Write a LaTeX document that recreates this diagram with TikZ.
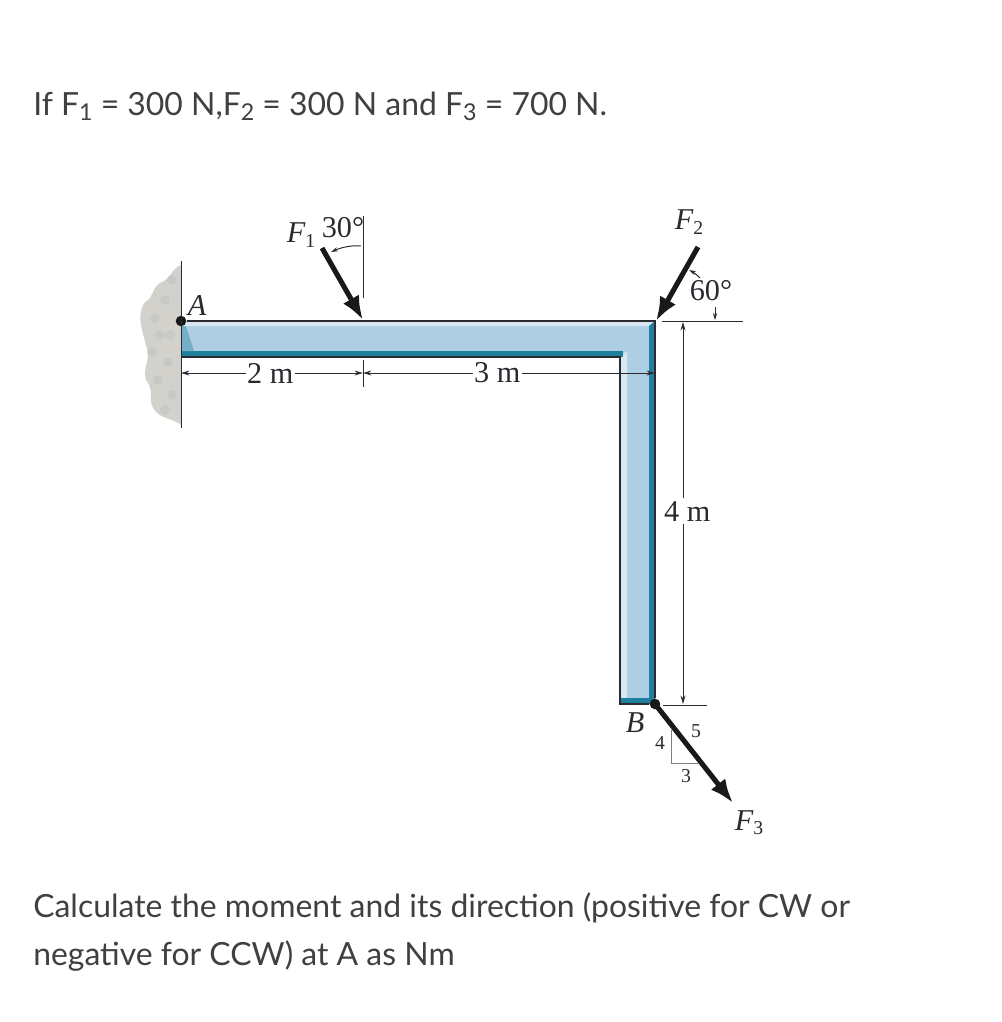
\documentclass[tikz,border=0pt]{standalone}
\usepackage{fontspec}
\setmainfont{Liberation Serif}
\newfontfamily\prosefont{Lato}
\usetikzlibrary{arrows.meta}
\definecolor{beamlight}{HTML}{AECFE3}
\definecolor{beampale}{HTML}{D8E7F2}
\definecolor{beamdark}{HTML}{1F7F9C}
\definecolor{wallgray}{HTML}{D2D1CB}
\definecolor{wallspot}{HTML}{C8C9C6}
\definecolor{inkgray}{HTML}{2A2A30}
\newcommand{\lowdigit}[1]{\lower4pt\hbox{\fontsize{16.5}{16.5}\selectfont #1}}
\tikzset{
	force/.style={line width=3.6pt, draw=black!90, -{Latex[length=17pt,width=13pt]}},
	thin line/.style={line width=0.7pt, draw=inkgray},
	dim/.style={line width=0.7pt, draw=inkgray, {Stealth[length=6pt,width=3.5pt]}-{Stealth[length=6pt,width=3.5pt]}},
	big text/.style={font=\fontsize{21.5}{21.5}\selectfont, text=inkgray, inner sep=0pt},
	ital text/.style={font=\fontsize{21.5}{21.5}\selectfont\itshape, text=inkgray, inner sep=0pt},
	small text/.style={font=\fontsize{14}{14}\selectfont, text=inkgray, inner sep=0pt},
	prose/.style={font=\prosefont\fontsize{22.7}{22.7}\selectfont, text=black!75, inner sep=0pt, anchor=base west}
}
\begin{document}
\begin{tikzpicture}[x=0.025cm,y=-0.025cm]
	\useasboundingbox (0,0) rectangle (1002,1022);

	% question text
	\node[prose] (top) at (33,115) {If F\lowdigit{1} = 300 N,F\lowdigit{2} = 300 N and F\lowdigit{3} = 700 N.};
	\node[prose] (line_a) at (33,917) {Calculate the moment and its direction (positive for CW or};
	\node[prose] (line_b) at (33,965) {negative for CCW) at A as Nm};

	% wall
	\fill[wallgray] (181,265) .. controls (172,268) and (170,280) .. (160,283)
		.. controls (150,290) and (155,297) .. (145,302)
		.. controls (136,315) and (142,330) .. (146,345)
		.. controls (152,358) and (142,368) .. (146,380)
		.. controls (156,392) and (146,402) .. (156,412)
		.. controls (165,420) and (172,418) .. (181,425) -- cycle;
	\foreach \x/\y in {165/300,155/318,170/335,152/352,168/362,158/380,172/395,165/410,172/280,160/335}
	{
		\fill[wallspot] (\x,\y) circle (3.5pt);
	}

	% beam
	\fill[beamlight] (181,321) -- (655,321) -- (655,704) -- (620,704) -- (620,357) -- (181,357) -- cycle;
	\fill[beampale] (181,321) -- (655,321) -- (649,326) -- (181,326) -- cycle;
	\fill[beampale] (620,357) -- (627,351) -- (627,698) -- (620,698) -- cycle;
	\fill[beamdark] (181,351) -- (623,351) -- (623,357) -- (181,357) -- cycle;
	\fill[beamdark] (649,326) -- (655,321) -- (655,704) -- (649,704) -- cycle;
	\fill[beamdark] (620,698) -- (655,698) -- (655,704) -- (620,704) -- cycle;
	\fill[beamdark!40!beamlight] (181,326) -- (186,326) -- (194,351) -- (181,351) -- cycle;

	% named points
	\coordinate (wall_t) at (181,261);
	\coordinate (wall_b) at (181,428);
	\coordinate (corner) at (655,321);
	\coordinate (inner) at (620,357);
	\coordinate (inner_b) at (620,704);
	\coordinate (f1_tail) at (322,248);
	\coordinate (f1_tip) at (363,320);
	\coordinate (f2_tail) at (698,247);
	\coordinate (f2_tip) at (656,321);
	\coordinate (f3_tip) at (733,803);
	\node[circle, fill=black!90, inner sep=0pt, minimum size=7.5pt] (A) at (181,321) {};
	\node[circle, fill=black!90, inner sep=0pt, minimum size=7.5pt] (B) at (655,704) {};

	\draw[thin line] (wall_t) -- (wall_b);
	\draw[thin line, line width=1pt] (A) -- (corner) -- (B) -- (inner_b) -- (inner) -- (181,357);

	% forces
	\draw[force] (f1_tail) -- (f1_tip);
	\draw[force] (f2_tail) -- (f2_tip);
	\draw[force, shorten <=-3pt] (B) -- (f3_tip);

	% angle marks
	\draw[thin line] (363,216) -- (363,298);
	\draw[thin line, -{Stealth[length=5pt,width=3pt]}] (361,246) .. controls (350,245) and (340,248) .. (331,252);
	\draw[thin line, -{Stealth[length=5pt,width=3pt]}] (700,278) .. controls (696,274) and (693,272) .. (689,270);
	\draw[thin line] (662,321) -- (743,321);
	\draw[thin line, -{Stealth[length=5pt,width=3pt]}] (715,307) -- (715,320);

	% dimensions
	\coordinate (d_a) at (181,373);
	\coordinate (d_b) at (363,373);
	\coordinate (d_c) at (655,373);
	\coordinate (d_t) at (683,322);
	\coordinate (d_u) at (683,704);
	\draw[thin line] (363,360) -- (363,387);
	\draw[thin line] (663,705) -- (707,705);
	\draw[dim] (d_a) -- node[big text, fill=white, inner xsep=1pt, pos=0.49] (len_a) {2 m} (d_b);
	\draw[dim] (d_b) -- node[big text, fill=white, inner xsep=1pt, pos=0.46] (len_b) {3 m} (d_c);
	\draw[dim] (d_t) -- node[big text, fill=white, inner ysep=2pt, pos=0.495, xshift=3pt] (len_c) {4 m} (d_u);

	% slope triangle
	\draw[thin line, draw=gray] (671,730) -- (671,763) -- (698,763);

	% labels
	\node[ital text] (lab_a) at (197,306) {A};
	\node[ital text] (lab_b) at (635,723) {B};
	\node[big text] (lab_f1) at (301,235) {\itshape F\lower3pt\hbox{\fontsize{14}{14}\selectfont\upshape 1}};
	\node[big text] (lab_f2) at (689,222) {\itshape F\lower3pt\hbox{\fontsize{14}{14}\selectfont\upshape 2}};
	\node[big text] (lab_f3) at (749,823) {\itshape F\lower3pt\hbox{\fontsize{14}{14}\selectfont\upshape 3}};
	\node[big text] (lab_30) at (343,228) {30°};
	\node[big text] (lab_60) at (711,291) {60°};
	\node[small text] (lab_5) at (696,731) {5};
	\node[small text] (lab_4) at (660,743) {4};
	\node[small text] (lab_3) at (686,776) {3};

\end{tikzpicture}
\end{document}
